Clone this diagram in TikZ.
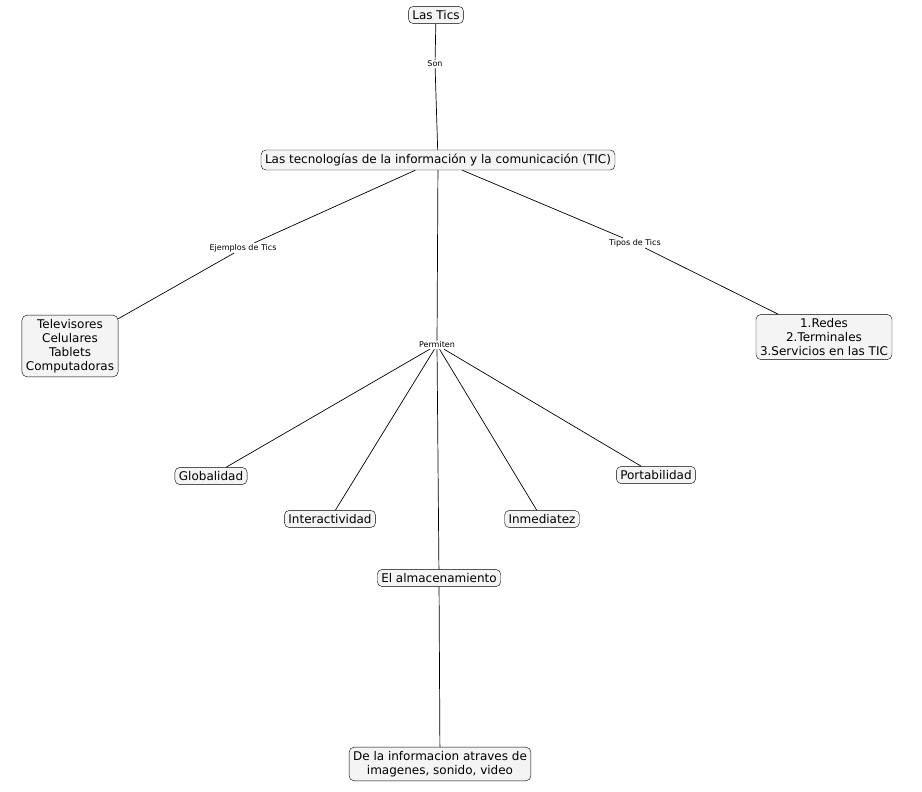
\documentclass[tikz,border=0pt]{standalone}
\usepackage{fontspec}
\setmainfont{DejaVu Sans}
\begin{document}
\begin{tikzpicture}[x=1pt,y=-1pt,font=\fontsize{12}{14}\selectfont]
	\tikzset{Concept/.style={draw, rounded corners=5pt, fill=blue!4!gray!8, inner sep=4pt, align=center},
		Link/.style={fill=white, inner sep=1pt, font=\fontsize{8}{9}\selectfont},
		Line/.style={draw, line width=0.7pt}}
	\useasboundingbox (0,0) rectangle (922,792);
	\node[Concept] (tics) at (436,15) {Las Tics};
	\node[Concept] (tic) at (438,160) {Las tecnologías de la información y la comunicación (TIC)};
	\node[Concept] (tv) at (70,346) {Televisores\\Celulares\\Tablets\\Computadoras};
	\node[Concept] (redes) at (824,337) {1.Redes\\2.Terminales\\3.Servicios en las TIC};
	\node[Concept] (glob) at (211,476) {Globalidad};
	\node[Concept] (inter) at (330,519) {Interactividad};
	\node[Concept] (inme) at (542,519) {Inmediatez};
	\node[Concept] (port) at (656,475) {Portabilidad};
	\node[Concept] (alm) at (439,578) {El almacenamiento};
	\node[Concept] (info) at (440,764) {De la informacion atraves de\\imagenes, sonido, video};
	% enlaces
	\node[Link] (son) at (435,64) {Son};
	\node[Link] (ejem) at (243,248) {Ejemplos de Tics};
	\node[Link] (tipos) at (635,243) {Tipos de Tics};
	\node[Link] (perm) at (437,345) {Permiten};
	\path[Line] (tics) -- (son) -- (tic);
	\path[Line] (tic) -- (ejem) -- (tv);
	\path[Line] (tic) -- (tipos) -- (redes);
	\path[Line] (tic) -- (perm);
	\foreach \n in {glob,inter,alm,inme,port}
		\path[Line] (perm) -- (\n);
	\path[Line] (alm) -- (info);
\end{tikzpicture}
\end{document}
